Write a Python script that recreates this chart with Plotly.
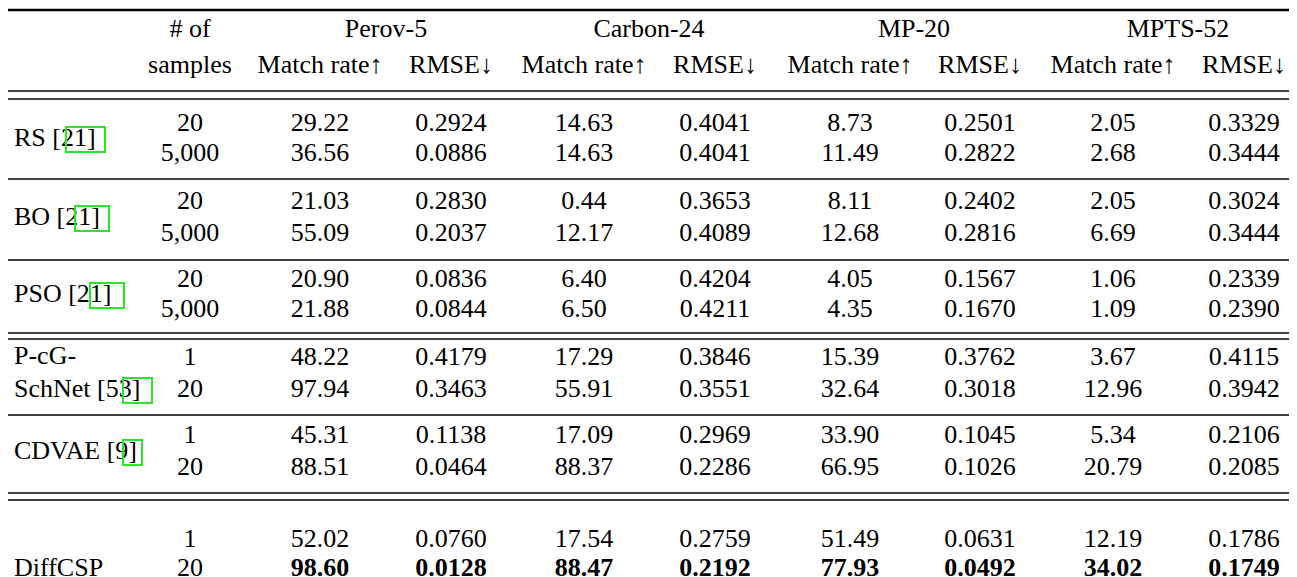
import plotly.graph_objects as go

W, H = 1297, 577
FONT = "Liberation Serif"

groups = ["Perov-5", "Carbon-24", "MP-20", "MPTS-52"]
methods = ["RS [21]", "BO [21]", "PSO [21]", "P-cG-<br>SchNet [53]", "CDVAE [9]", "DiffCSP"]
samples = [["20", "5,000"], ["20", "5,000"], ["20", "5,000"], ["1", "20"], ["1", "20"], ["1", "20"]]

perov_mr = [[29.22, 36.56], [21.03, 55.09], [20.90, 21.88], [48.22, 97.94], [45.31, 88.51], [52.02, 98.60]]
perov_rmse = [[0.2924, 0.0886], [0.2830, 0.2037], [0.0836, 0.0844], [0.4179, 0.3463], [0.1138, 0.0464], [0.0760, 0.0128]]
carbon_mr = [[14.63, 14.63], [0.44, 12.17], [6.40, 6.50], [17.29, 55.91], [17.09, 88.37], [17.54, 88.47]]
carbon_rmse = [[0.4041, 0.4041], [0.3653, 0.4089], [0.4204, 0.4211], [0.3846, 0.3551], [0.2969, 0.2286], [0.2759, 0.2192]]
mp_mr = [[8.73, 11.49], [8.11, 12.68], [4.05, 4.35], [15.39, 32.64], [33.90, 66.95], [51.49, 77.93]]
mp_rmse = [[0.2501, 0.2822], [0.2402, 0.2816], [0.1567, 0.1670], [0.3762, 0.3018], [0.1045, 0.1026], [0.0631, 0.0492]]
mpts_mr = [[2.05, 2.68], [2.05, 6.69], [1.06, 1.09], [3.67, 12.96], [5.34, 20.79], [12.19, 34.02]]
mpts_rmse = [[0.3329, 0.3444], [0.3024, 0.3444], [0.2339, 0.2390], [0.4115, 0.3942], [0.2106, 0.2085], [0.1786, 0.1749]]

# layout of the table (pixel units)
SIZE = 26
col_x = [182, 312, 443, 576, 707, 842, 972, 1105, 1236]
group_x = [378, 641, 906, 1170]
row_y = [[116, 146], [194, 226], [272, 302], [350, 382], [428, 460], [532, 561]]
method_y = [131, 210, 287, 366, 444, 561]

fig = go.Figure()

def add_text(xs, ys, texts, pos="middle center"):
    fig.add_trace(go.Scatter(x=xs, y=ys, text=texts, mode="text", textposition=pos,
                             textfont=dict(family=FONT, size=SIZE, color="black"),
                             hoverinfo="skip", showlegend=False))

# headers
add_text([col_x[0]], [22], ["# of"])
add_text([col_x[0]], [58], ["samples"])
add_text(group_x, [22] * 4, groups)
add_text(col_x[1:], [58] * 8, ["Match rate↑", "RMSE↓"] * 4)

# methods
add_text([6] * len(methods), method_y, methods, pos="middle right")

cols = [perov_mr, perov_rmse, carbon_mr, carbon_rmse, mp_mr, mp_rmse, mpts_mr, mpts_rmse]
for i in range(len(methods)):
    for j in range(2):
        y = row_y[i][j]
        add_text([col_x[0]], [y], [samples[i][j]])
        vals = []
        for k, c in enumerate(cols):
            s = f"{c[i][j]:.2f}" if k % 2 == 0 else f"{c[i][j]:.4f}"
            if i == len(methods) - 1 and j == 1:
                s = f"<b>{s}</b>"
            vals.append(s)
        add_text(col_x[1:], [y] * 8, vals)

# rules
lines = [(2, 2.5), (83, 1.5), (91, 1.5), (171, 1.5), (252, 1.5), (325, 1.5), (331, 1.5),
         (407, 1.5), (485, 1.5), (492, 1.5)]
for y, w in lines:
    fig.add_shape(type="line", x0=0, x1=W, y0=y, y1=y, line=dict(color="black", width=w))

# green citation boxes
boxes = [(58, 97, 119, 144), (67, 101, 198, 223), (82, 116, 275, 300),
         (115, 144, 370, 395), (115, 134, 432, 457)]
for x0, x1, y0, y1 in boxes:
    fig.add_shape(type="rect", x0=x0, x1=x1, y0=y0, y1=y1,
                  line=dict(color="rgb(40,230,40)", width=2))

fig.update_layout(
    width=W, height=H, margin=dict(l=0, r=0, t=0, b=0),
    plot_bgcolor="white", paper_bgcolor="white",
    xaxis=dict(range=[0, W], visible=False, fixedrange=True),
    yaxis=dict(range=[H, 0], visible=False, fixedrange=True),
)

fig.write_html("out.html")
